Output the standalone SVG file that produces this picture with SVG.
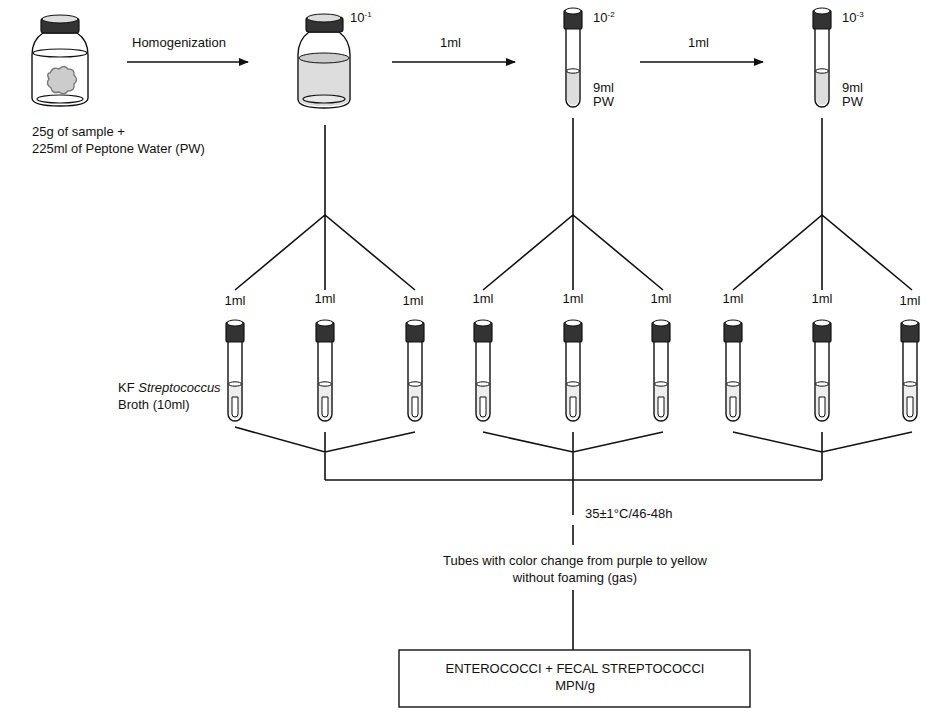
<svg xmlns="http://www.w3.org/2000/svg" width="948" height="714" viewBox="0 0 948 714">
<defs>
<style>
text{font-family:"Liberation Sans",Arial,sans-serif;font-size:13px;fill:#111}
.ln{stroke:#111;stroke-width:1.6;fill:none}
.cap{fill:#333;stroke:#111;stroke-width:1.2}
.glass{fill:#fff;stroke:#111;stroke-width:1.4}
</style>
<marker id="ah" markerWidth="10" markerHeight="8" refX="9" refY="4" orient="auto" markerUnits="userSpaceOnUse"><path d="M0,0 L10,4 L0,8 Z" fill="#111"/></marker>
<g id="kt">
<path class="glass" d="M-7,340 V414 A7,7 0 0 0 7,414 V340 Z"/>
<path d="M-6,384 V413 A6,6 0 0 0 6,413 V384 Z" fill="#eee"/>
<ellipse cx="0" cy="384" rx="6.5" ry="2.2" fill="#fff" stroke="#111" stroke-width="1"/>
<path d="M-3,397 V414 A3,3 0 0 0 3,414 V397 Z" fill="#fff" stroke="#111" stroke-width="1"/>
<rect class="cap" x="-9" y="322" width="18" height="20" rx="2"/>
<ellipse cx="0" cy="323" rx="8" ry="3" fill="#fff" stroke="#111" stroke-width="1"/>
</g>
<g id="dt">
<path class="glass" d="M-7,28 V100 A7,7 0 0 0 7,100 V28 Z"/>
<path d="M-6,71 V99 A6,6 0 0 0 6,99 V71 Z" fill="#ddd"/>
<ellipse cx="0" cy="71" rx="6.5" ry="2.2" fill="#fff" stroke="#111" stroke-width="1"/>
<rect class="cap" x="-9" y="10" width="18" height="19" rx="2"/>
<ellipse cx="0" cy="11" rx="8" ry="3" fill="#fff" stroke="#111" stroke-width="1"/>
</g>
</defs>
<rect width="948" height="714" fill="#fff"/>
<g id="jar1">
<path class="glass" d="M43,33 Q32,40 32,55 V98 Q32,106 60,106 Q88,106 88,98 V55 Q88,40 77,33 Z"/>
<ellipse cx="60" cy="53" rx="27" ry="4" fill="none" stroke="#111" stroke-width="1.2"/>
<ellipse cx="60" cy="99" rx="23" ry="4" fill="none" stroke="#111" stroke-width="1.2"/>
<path d="M50,73 q3,-7 9,-4 q5,-5 9,0 q7,0 6,6 q5,5 0,9 q1,7 -6,7 q-4,5 -9,1 q-7,2 -8,-4 q-6,-4 -2,-9 q-3,-6 1,-6 Z" fill="#ccc" stroke="#777" stroke-width="1.4"/>
<rect class="cap" x="41" y="18" width="38" height="15" rx="3"/>
<ellipse cx="60" cy="19" rx="18" ry="4" fill="#ddd" stroke="#111" stroke-width="1"/>
<text x="32" y="136">25g of sample +</text>
<text x="32" y="153">225ml of Peptone Water (PW)</text>
</g>
<g id="jar2">
<path class="glass" d="M309,32 Q298,40 298,55 V99 Q298,108 324,108 Q350,108 350,99 V55 Q350,40 339,32 Z"/>
<path d="M299,58 V99 Q299,106 324,106 Q349,106 349,99 V58 Z" fill="#ddd"/>
<ellipse cx="324" cy="58" rx="25" ry="5" fill="#ccc" stroke="#111" stroke-width="1"/>
<ellipse cx="324" cy="99" rx="21" ry="4" fill="#e8e8e8" stroke="#111" stroke-width="1.2"/>
<rect class="cap" x="306" y="17" width="37" height="15" rx="3"/>
<ellipse cx="324" cy="18" rx="17" ry="4" fill="#ddd" stroke="#111" stroke-width="1"/>
<text x="350" y="22">10<tspan dy="-5" font-size="8">-1</tspan></text>
</g>
<g id="tube2">
<use href="#dt" x="573"/>
<text x="593" y="22">10<tspan dy="-5" font-size="8">-2</tspan></text>
<text x="593" y="92">9ml</text><text x="593" y="106">PW</text>
</g>
<g id="tube3">
<use href="#dt" x="822"/>
<text x="842" y="22">10<tspan dy="-5" font-size="8">-3</tspan></text>
<text x="842" y="92">9ml</text><text x="842" y="106">PW</text>
</g>
<g id="kftubes">
<use href="#kt" x="235"/><use href="#kt" x="325"/><use href="#kt" x="415"/>
<use href="#kt" x="483"/><use href="#kt" x="573"/><use href="#kt" x="661"/>
<use href="#kt" x="733"/><use href="#kt" x="822"/><use href="#kt" x="910"/>
<g text-anchor="middle">
<text x="235" y="305">1ml</text><text x="325" y="303">1ml</text><text x="413" y="305">1ml</text>
<text x="483" y="303">1ml</text><text x="573" y="303">1ml</text><text x="661" y="303">1ml</text>
<text x="733" y="303">1ml</text><text x="822" y="303">1ml</text><text x="910" y="305">1ml</text>
</g>
<text x="118" y="392">KF <tspan font-style="italic">Streptococcus</tspan></text>
<text x="118" y="409">Broth (10ml)</text>
</g>
<g id="connectors" class="ln">
<line x1="127" y1="62" x2="248" y2="62" marker-end="url(#ah)"/>
<line x1="392" y1="62" x2="515" y2="62" marker-end="url(#ah)"/>
<line x1="640" y1="62" x2="763" y2="62" marker-end="url(#ah)"/>
<line x1="325" y1="125" x2="325" y2="215"/>
<line x1="573" y1="118" x2="573" y2="215"/>
<line x1="822" y1="118" x2="822" y2="215"/>
<path d="M235,290 L325,215 L415,290 M325,215 V290"/>
<path d="M483,290 L573,215 L663,290 M573,215 V290"/>
<path d="M733,290 L822,215 L912,290 M822,215 V290"/>
<path d="M235,427 L325,452 L415,432 M325,432 V480"/>
<path d="M483,432 L573,452 L663,432 M573,432 V515"/>
<path d="M733,432 L822,452 L912,432 M822,432 V480"/>
<line x1="325" y1="480" x2="822" y2="480"/>
<line x1="573" y1="525" x2="573" y2="545"/>
<line x1="573" y1="590" x2="573" y2="650"/>
</g>
<g id="incub"><text x="585" y="518">35±1°C/46-48h</text></g>
<g id="result" text-anchor="middle">
<text x="575" y="565">Tubes with color change from purple to yellow</text>
<text x="575" y="582">without foaming (gas)</text>
</g>
<g id="box">
<rect x="399" y="650" width="351" height="57" fill="#fff" stroke="#111" stroke-width="1.4"/>
<text x="575" y="673" text-anchor="middle">ENTEROCOCCI + FECAL STREPTOCOCCI</text>
<text x="575" y="690" text-anchor="middle">MPN/g</text>
</g>
<g id="labels">
<text x="132" y="47">Homogenization</text>
<text x="440" y="47">1ml</text>
<text x="688" y="47">1ml</text>
</g>
</svg>
